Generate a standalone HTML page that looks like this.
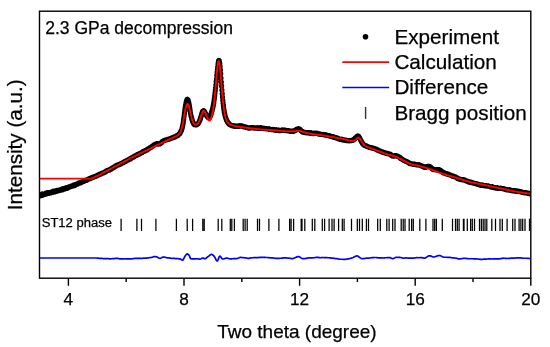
<!DOCTYPE html>
<html><head><meta charset="utf-8"><style>
html,body{margin:0;padding:0;background:#fff;}
svg{display:block;}
text{font-family:"Liberation Sans",Arial,sans-serif;fill:#000;stroke:#000;stroke-width:0.25px;}
</style></head><body>
<svg width="550" height="347" viewBox="0 0 550 347">
<rect width="550" height="347" fill="#fff"/>
<defs><clipPath id="c"><rect x="39.5" y="11.2" width="491.30" height="267"/></clipPath></defs>
<g clip-path="url(#c)" fill="none" stroke-linejoin="round" stroke-linecap="round">
<path d="M39.5 195.4h0M39.8 195.9h0M40.1 195.8h0M40.4 194.9h0M40.7 195.0h0M41.0 194.8h0M41.3 195.2h0M41.6 194.8h0M41.9 195.1h0M42.2 193.9h0M42.5 195.3h0M42.8 194.5h0M43.1 194.8h0M43.4 194.3h0M43.7 194.2h0M44.0 194.4h0M44.3 194.5h0M44.6 194.0h0M44.9 194.0h0M45.2 194.2h0M45.5 193.5h0M45.8 193.2h0M46.1 193.9h0M46.4 193.4h0M46.7 192.8h0M47.0 193.2h0M47.3 193.2h0M47.6 192.9h0M47.9 192.7h0M48.2 193.2h0M48.5 193.4h0M48.8 192.9h0M49.1 192.6h0M49.4 193.0h0M49.7 193.0h0M50.0 192.6h0M50.3 192.8h0M50.6 192.9h0M50.9 192.4h0M51.2 192.1h0M51.5 192.4h0M51.8 192.3h0M52.1 192.5h0M52.4 191.6h0M52.7 191.7h0M53.0 191.6h0M53.3 191.2h0M53.6 191.8h0M53.9 191.8h0M54.2 191.3h0M54.5 192.0h0M54.8 191.7h0M55.1 191.6h0M55.4 191.4h0M55.7 191.5h0M56.0 190.7h0M56.3 191.2h0M56.6 191.2h0M56.9 190.3h0M57.2 190.9h0M57.5 190.6h0M57.8 190.9h0M58.1 190.4h0M58.4 190.5h0M58.7 190.5h0M59.0 190.1h0M59.3 190.4h0M59.6 190.1h0M59.9 190.2h0M60.2 189.8h0M60.5 190.2h0M60.8 190.0h0M61.1 189.7h0M61.4 189.8h0M61.7 189.9h0M62.0 190.0h0M62.3 188.9h0M62.6 189.5h0M62.9 189.3h0M63.2 189.1h0M63.5 188.7h0M63.8 189.2h0M64.1 188.5h0M64.4 188.9h0M64.7 188.9h0M65.0 188.1h0M65.3 188.3h0M65.6 188.0h0M65.9 188.3h0M66.2 188.5h0M66.5 188.5h0M66.8 187.5h0M67.1 187.6h0M67.4 187.8h0M67.7 187.9h0M68.0 187.6h0M68.3 187.2h0M68.6 187.3h0M68.9 187.1h0M69.2 187.0h0M69.5 186.7h0M69.8 186.9h0M70.1 186.7h0M70.4 186.5h0M70.7 186.4h0M71.0 186.1h0M71.3 186.1h0M71.6 186.3h0M71.9 185.9h0M72.2 185.6h0M72.5 186.0h0M72.8 185.7h0M73.1 185.9h0M73.4 185.4h0M73.7 185.2h0M74.0 184.9h0M74.3 185.3h0M74.6 185.4h0M74.9 184.7h0M75.2 184.6h0M75.5 184.7h0M75.8 184.3h0M76.1 184.3h0M76.4 184.2h0M76.7 184.1h0M77.0 184.2h0M77.3 183.9h0M77.6 183.9h0M77.9 183.6h0M78.2 183.6h0M78.5 183.1h0M78.8 183.1h0M79.1 183.3h0M79.4 183.0h0M79.7 183.0h0M80.0 182.9h0M80.3 182.9h0M80.6 182.7h0M80.9 182.6h0M81.2 182.3h0M81.5 182.1h0M81.8 182.0h0M82.1 181.9h0M82.4 181.7h0M82.7 181.6h0M83.0 181.5h0M83.3 181.4h0M83.6 181.2h0M83.9 180.9h0M84.2 181.0h0M84.5 180.9h0M84.8 180.8h0M85.1 180.6h0M85.4 180.4h0M85.7 180.2h0M86.0 180.4h0M86.3 180.1h0M86.6 180.1h0M86.9 180.0h0M87.2 179.5h0M87.5 179.5h0M87.8 179.4h0M88.1 179.3h0M88.4 179.2h0M88.7 179.0h0M89.0 178.9h0M89.3 178.6h0M89.6 178.6h0M89.9 178.4h0M90.2 178.4h0M90.5 178.2h0M90.8 178.2h0M91.1 178.0h0M91.4 177.9h0M91.7 177.7h0M92.0 177.6h0M92.3 177.4h0M92.6 177.3h0M92.9 177.2h0M93.2 177.2h0M93.5 177.0h0M93.8 177.0h0M94.1 176.7h0M94.4 176.8h0M94.7 176.5h0M95.0 176.4h0M95.3 176.3h0M95.6 176.2h0M95.9 176.2h0M96.2 176.0h0M96.5 175.9h0M96.8 175.8h0M97.1 175.6h0M97.4 175.3h0M97.7 175.1h0M98.0 175.1h0M98.3 174.8h0M98.6 175.0h0M98.9 174.5h0M99.2 174.6h0M99.5 174.5h0M99.8 174.1h0M100.1 174.2h0M100.4 174.1h0M100.7 173.9h0M101.0 173.7h0M101.3 173.7h0M101.6 173.4h0M101.9 173.3h0M102.2 173.2h0M102.5 173.1h0M102.8 172.9h0M103.1 172.9h0M103.4 172.7h0M103.7 172.5h0M104.0 172.5h0M104.3 172.5h0M104.6 172.2h0M104.9 171.9h0M105.2 171.9h0M105.5 171.6h0M105.8 171.5h0M106.1 171.3h0M106.4 170.9h0M106.7 171.0h0M107.0 170.7h0M107.3 170.6h0M107.6 170.4h0M107.9 170.3h0M108.2 170.2h0M108.5 170.2h0M108.8 170.2h0M109.1 169.9h0M109.4 169.9h0M109.7 169.6h0M110.0 169.3h0M110.3 169.3h0M110.6 169.2h0M110.9 169.0h0M111.2 168.9h0M111.5 168.7h0M111.8 168.4h0M112.1 168.2h0M112.4 168.1h0M112.7 167.9h0M113.0 167.7h0M113.3 167.7h0M113.6 167.6h0M113.9 167.2h0M114.2 167.1h0M114.5 167.0h0M114.8 166.7h0M115.1 166.6h0M115.4 166.2h0M115.7 166.1h0M116.0 166.0h0M116.3 165.7h0M116.6 165.4h0M116.9 165.3h0M117.2 165.2h0M117.5 165.0h0M117.8 164.8h0M118.1 164.9h0M118.4 164.6h0M118.7 164.7h0M119.0 164.5h0M119.3 164.4h0M119.6 164.5h0M119.9 164.3h0M120.2 164.0h0M120.5 164.0h0M120.8 163.7h0M121.1 163.4h0M121.4 163.4h0M121.7 163.3h0M122.0 163.2h0M122.3 163.0h0M122.6 162.8h0M122.9 162.7h0M123.2 162.5h0M123.5 162.4h0M123.8 162.1h0M124.1 162.0h0M124.4 161.8h0M124.7 161.5h0M125.0 161.3h0M125.3 161.4h0M125.6 161.2h0M125.9 161.0h0M126.2 160.9h0M126.5 160.7h0M126.8 160.6h0M127.1 160.4h0M127.4 160.3h0M127.7 160.0h0M128.0 160.1h0M128.3 159.8h0M128.6 159.5h0M128.9 159.4h0M129.2 159.3h0M129.5 159.2h0M129.8 158.9h0M130.1 158.9h0M130.4 159.1h0M130.7 158.4h0M131.0 158.4h0M131.3 158.2h0M131.6 158.1h0M131.9 157.7h0M132.2 157.6h0M132.5 157.6h0M132.8 157.3h0M133.1 157.3h0M133.4 156.8h0M133.7 156.7h0M134.0 156.8h0M134.3 156.3h0M134.6 156.1h0M134.9 156.0h0M135.2 155.8h0M135.5 155.8h0M135.8 155.5h0M136.1 155.3h0M136.4 155.2h0M136.7 155.3h0M137.0 155.0h0M137.3 154.5h0M137.6 154.6h0M137.9 154.4h0M138.2 154.4h0M138.5 154.1h0M138.8 154.2h0M139.1 153.9h0M139.4 153.8h0M139.7 153.5h0M140.0 153.4h0M140.3 153.3h0M140.6 153.2h0M140.9 153.0h0M141.2 152.8h0M141.5 152.8h0M141.8 152.5h0M142.1 152.4h0M142.4 152.1h0M142.7 152.0h0M143.0 151.8h0M143.3 151.4h0M143.6 151.6h0M143.9 151.4h0M144.2 151.1h0M144.5 151.1h0M144.8 150.9h0M145.1 150.7h0M145.4 150.3h0M145.7 150.4h0M146.0 150.3h0M146.3 150.3h0M146.6 150.1h0M146.9 149.9h0M147.2 149.5h0M147.5 149.2h0M147.8 149.3h0M148.1 149.0h0M148.4 148.9h0M148.7 148.6h0M149.0 148.4h0M149.3 148.0h0M149.6 148.1h0M149.9 147.8h0M150.2 147.7h0M150.5 147.5h0M150.8 147.3h0M151.1 147.1h0M151.4 146.9h0M151.7 146.8h0M152.0 146.5h0M152.3 146.2h0M152.6 146.0h0M152.9 146.0h0M153.2 145.5h0M153.5 145.4h0M153.8 145.1h0M154.1 144.8h0M154.4 144.6h0M154.7 144.5h0M155.0 144.4h0M155.3 144.3h0M155.6 144.0h0M155.9 144.0h0M156.2 143.9h0M156.5 144.1h0M156.8 143.6h0M157.1 143.9h0M157.4 143.8h0M157.7 143.9h0M158.0 143.9h0M158.3 144.0h0M158.6 144.1h0M158.9 143.9h0M159.2 143.9h0M159.5 143.9h0M159.8 143.7h0M160.1 143.6h0M160.4 143.4h0M160.7 143.1h0M161.0 142.9h0M161.3 142.6h0M161.6 142.4h0M161.9 142.0h0M162.2 141.7h0M162.5 141.6h0M162.8 141.3h0M163.1 141.1h0M163.4 140.8h0M163.7 140.6h0M164.0 140.5h0M164.3 140.4h0M164.6 140.4h0M164.9 140.2h0M165.2 140.0h0M165.5 140.1h0M165.8 139.9h0M166.1 140.0h0M166.4 139.8h0M166.7 139.7h0M167.0 139.7h0M167.3 139.6h0M167.6 139.4h0M167.9 139.5h0M168.2 139.5h0M168.5 139.0h0M168.8 139.3h0M169.1 138.9h0M169.4 138.8h0M169.7 138.8h0M170.0 138.5h0M170.3 138.7h0M170.6 138.5h0M170.9 138.3h0M171.2 138.3h0M171.5 138.0h0M171.8 138.1h0M172.1 138.1h0M172.4 137.7h0M172.7 137.7h0M173.0 137.6h0M173.3 137.6h0M173.6 137.5h0M173.9 137.1h0M174.2 137.0h0M174.5 136.9h0M174.8 136.7h0M175.1 136.6h0M175.4 136.7h0M175.7 136.6h0M176.0 136.3h0M176.3 136.2h0M176.6 136.1h0M176.9 135.7h0M177.2 135.7h0M177.5 135.4h0M177.8 135.5h0M178.1 135.1h0M178.4 134.8h0M178.7 134.5h0M179.0 134.0h0M179.3 134.0h0M179.6 133.7h0M179.9 133.0h0M180.2 132.7h0M180.5 132.2h0M180.8 131.4h0M181.1 131.1h0M181.4 130.4h0M181.7 129.5h0M182.0 128.5h0M182.3 127.5h0M182.6 125.9h0M182.9 124.5h0M183.2 122.8h0M183.5 120.4h0M183.8 118.4h0M184.1 115.9h0M184.4 113.4h0M184.7 111.2h0M185.0 108.9h0M185.3 107.0h0M185.6 105.1h0M185.9 103.7h0M186.2 102.1h0M186.5 101.0h0M186.8 100.0h0M187.1 99.4h0M187.4 99.4h0M187.7 99.5h0M188.0 99.9h0M188.3 100.7h0M188.6 102.0h0M188.9 103.2h0M189.2 104.5h0M189.5 106.3h0M189.8 108.3h0M190.1 110.4h0M190.4 112.5h0M190.7 114.3h0M191.0 115.7h0M191.3 116.8h0M191.6 118.1h0M191.9 119.2h0M192.2 120.1h0M192.5 121.1h0M192.8 121.8h0M193.1 122.5h0M193.4 123.1h0M193.7 123.6h0M194.0 124.1h0M194.3 124.2h0M194.6 124.7h0M194.9 124.6h0M195.2 124.8h0M195.5 124.7h0M195.8 124.9h0M196.1 125.0h0M196.4 124.8h0M196.7 124.7h0M197.0 124.3h0M197.3 124.2h0M197.6 124.0h0M197.9 123.7h0M198.2 123.5h0M198.5 123.0h0M198.8 122.5h0M199.1 122.0h0M199.4 121.2h0M199.7 120.5h0M200.0 119.7h0M200.3 118.9h0M200.6 117.9h0M200.9 116.9h0M201.2 115.9h0M201.5 114.6h0M201.8 113.7h0M202.1 112.9h0M202.4 111.9h0M202.7 111.4h0M203.0 111.1h0M203.3 110.8h0M203.6 110.7h0M203.9 110.8h0M204.2 111.1h0M204.5 111.7h0M204.8 112.1h0M205.1 112.8h0M205.4 113.4h0M205.7 113.8h0M206.0 114.3h0M206.3 114.9h0M206.6 115.4h0M206.9 115.9h0M207.2 116.2h0M207.5 116.7h0M207.8 116.8h0M208.1 117.3h0M208.4 117.7h0M208.7 117.8h0M209.0 117.8h0M209.3 117.7h0M209.6 117.4h0M209.9 117.0h0M210.2 116.3h0M210.5 115.6h0M210.8 114.9h0M211.1 113.8h0M211.4 113.0h0M211.7 111.9h0M212.0 110.8h0M212.3 109.8h0M212.6 108.5h0M212.9 107.4h0M213.2 105.7h0M213.5 104.3h0M213.8 102.4h0M214.1 100.0h0M214.4 98.0h0M214.7 95.7h0M215.0 93.0h0M215.3 90.5h0M215.6 87.5h0M215.9 84.8h0M216.2 81.6h0M216.5 78.8h0M216.8 75.5h0M217.1 72.4h0M217.4 69.7h0M217.7 67.1h0M218.0 64.3h0M218.3 62.4h0M218.6 60.9h0M218.9 60.3h0M219.2 60.6h0M219.5 61.9h0M219.8 63.7h0M220.1 66.7h0M220.4 70.1h0M220.7 73.7h0M221.0 78.0h0M221.3 82.1h0M221.6 85.9h0M221.9 90.1h0M222.2 93.7h0M222.5 97.0h0M222.8 100.3h0M223.1 103.0h0M223.4 105.6h0M223.7 108.0h0M224.0 110.1h0M224.3 111.9h0M224.6 113.3h0M224.9 114.7h0M225.2 116.2h0M225.5 117.1h0M225.8 118.1h0M226.1 118.8h0M226.4 119.7h0M226.7 120.2h0M227.0 121.1h0M227.3 121.4h0M227.6 122.0h0M227.9 122.4h0M228.2 123.0h0M228.5 123.1h0M228.8 123.6h0M229.1 123.9h0M229.4 124.2h0M229.7 124.5h0M230.0 124.6h0M230.3 124.8h0M230.6 124.9h0M230.9 125.1h0M231.2 125.2h0M231.5 125.3h0M231.8 125.4h0M232.1 125.5h0M232.4 125.8h0M232.7 125.6h0M233.0 125.8h0M233.3 125.9h0M233.6 125.7h0M233.9 125.8h0M234.2 125.9h0M234.5 126.1h0M234.8 126.4h0M235.1 126.3h0M235.4 126.4h0M235.7 126.3h0M236.0 126.1h0M236.3 126.2h0M236.6 126.5h0M236.9 126.5h0M237.2 126.3h0M237.5 126.5h0M237.8 126.2h0M238.1 126.4h0M238.4 126.4h0M238.7 126.1h0M239.0 125.9h0M239.3 126.1h0M239.6 125.8h0M239.9 126.0h0M240.2 125.8h0M240.5 126.0h0M240.8 126.0h0M241.1 126.0h0M241.4 126.0h0M241.7 126.2h0M242.0 126.0h0M242.3 126.3h0M242.6 126.3h0M242.9 126.5h0M243.2 126.4h0M243.5 126.7h0M243.8 126.6h0M244.1 126.6h0M244.4 126.9h0M244.7 127.0h0M245.0 126.8h0M245.3 126.8h0M245.6 127.0h0M245.9 127.0h0M246.2 127.1h0M246.5 127.4h0M246.8 127.4h0M247.1 127.5h0M247.4 127.6h0M247.7 127.7h0M248.0 127.8h0M248.3 127.9h0M248.6 127.9h0M248.9 128.0h0M249.2 128.2h0M249.5 128.0h0M249.8 127.8h0M250.1 127.9h0M250.4 127.6h0M250.7 127.5h0M251.0 127.6h0M251.3 127.5h0M251.6 127.6h0M251.9 127.7h0M252.2 127.7h0M252.5 127.7h0M252.8 127.7h0M253.1 127.7h0M253.4 127.9h0M253.7 127.8h0M254.0 127.8h0M254.3 128.1h0M254.6 127.9h0M254.9 128.1h0M255.2 128.1h0M255.5 128.0h0M255.8 127.9h0M256.1 128.1h0M256.4 128.1h0M256.7 128.2h0M257.0 128.1h0M257.3 128.2h0M257.6 128.3h0M257.9 128.1h0M258.2 128.3h0M258.5 128.2h0M258.8 128.1h0M259.1 128.1h0M259.4 128.4h0M259.7 128.3h0M260.0 128.0h0M260.3 128.2h0M260.6 128.2h0M260.9 128.2h0M261.2 128.2h0M261.5 128.2h0M261.8 128.4h0M262.1 128.2h0M262.4 128.3h0M262.7 128.3h0M263.0 128.3h0M263.3 128.5h0M263.6 128.5h0M263.9 128.4h0M264.2 128.4h0M264.5 128.5h0M264.8 128.7h0M265.1 128.7h0M265.4 128.7h0M265.7 128.7h0M266.0 128.7h0M266.3 128.8h0M266.6 128.6h0M266.9 129.0h0M267.2 128.8h0M267.5 128.8h0M267.8 129.0h0M268.1 129.0h0M268.4 129.0h0M268.7 129.0h0M269.0 129.0h0M269.3 129.2h0M269.6 129.4h0M269.9 129.2h0M270.2 129.5h0M270.5 129.3h0M270.8 129.4h0M271.1 129.5h0M271.4 129.5h0M271.7 129.6h0M272.0 129.5h0M272.3 129.5h0M272.6 129.4h0M272.9 129.5h0M273.2 129.6h0M273.5 129.6h0M273.8 129.8h0M274.1 129.8h0M274.4 129.7h0M274.7 130.2h0M275.0 130.0h0M275.3 130.0h0M275.6 130.3h0M275.9 130.3h0M276.2 130.1h0M276.5 130.1h0M276.8 130.2h0M277.1 130.5h0M277.4 130.3h0M277.7 130.3h0M278.0 130.4h0M278.3 130.5h0M278.6 130.3h0M278.9 130.4h0M279.2 130.3h0M279.5 130.7h0M279.8 130.6h0M280.1 130.6h0M280.4 130.5h0M280.7 130.6h0M281.0 130.3h0M281.3 130.5h0M281.6 130.4h0M281.9 130.4h0M282.2 130.4h0M282.5 130.4h0M282.8 130.5h0M283.1 130.5h0M283.4 130.4h0M283.7 130.3h0M284.0 130.4h0M284.3 130.3h0M284.6 130.5h0M284.9 130.3h0M285.2 130.1h0M285.5 130.4h0M285.8 130.7h0M286.1 130.6h0M286.4 130.5h0M286.7 130.7h0M287.0 130.7h0M287.3 130.7h0M287.6 130.7h0M287.9 130.8h0M288.2 130.8h0M288.5 130.8h0M288.8 130.8h0M289.1 130.9h0M289.4 131.0h0M289.7 131.1h0M290.0 131.1h0M290.3 131.2h0M290.6 131.4h0M290.9 131.3h0M291.2 131.4h0M291.5 131.5h0M291.8 131.4h0M292.1 131.4h0M292.4 131.5h0M292.7 131.5h0M293.0 131.3h0M293.3 131.2h0M293.6 131.1h0M293.9 130.8h0M294.2 130.9h0M294.5 130.6h0M294.8 130.3h0M295.1 130.4h0M295.4 130.0h0M295.7 129.9h0M296.0 129.9h0M296.3 129.6h0M296.6 129.7h0M296.9 129.2h0M297.2 129.3h0M297.5 129.2h0M297.8 129.1h0M298.1 129.0h0M298.4 128.9h0M298.7 128.9h0M299.0 128.9h0M299.3 129.2h0M299.6 129.2h0M299.9 129.5h0M300.2 129.7h0M300.5 130.0h0M300.8 130.3h0M301.1 130.8h0M301.4 130.8h0M301.7 131.2h0M302.0 131.4h0M302.3 131.7h0M302.6 131.9h0M302.9 132.0h0M303.2 132.2h0M303.5 132.0h0M303.8 132.2h0M304.1 132.2h0M304.4 132.4h0M304.7 132.3h0M305.0 132.4h0M305.3 132.5h0M305.6 132.7h0M305.9 132.7h0M306.2 132.7h0M306.5 132.8h0M306.8 132.6h0M307.1 132.5h0M307.4 132.7h0M307.7 132.7h0M308.0 132.9h0M308.3 133.0h0M308.6 132.7h0M308.9 133.1h0M309.2 133.1h0M309.5 133.0h0M309.8 133.0h0M310.1 133.3h0M310.4 133.1h0M310.7 133.1h0M311.0 133.2h0M311.3 133.0h0M311.6 133.3h0M311.9 133.2h0M312.2 133.3h0M312.5 133.4h0M312.8 133.3h0M313.1 133.6h0M313.4 133.4h0M313.7 133.6h0M314.0 133.3h0M314.3 133.5h0M314.6 133.4h0M314.9 133.5h0M315.2 133.4h0M315.5 133.2h0M315.8 133.3h0M316.1 133.4h0M316.4 133.5h0M316.7 133.3h0M317.0 133.2h0M317.3 133.4h0M317.6 133.5h0M317.9 133.5h0M318.2 133.6h0M318.5 133.9h0M318.8 134.0h0M319.1 134.0h0M319.4 134.0h0M319.7 134.2h0M320.0 134.2h0M320.3 134.2h0M320.6 134.4h0M320.9 134.4h0M321.2 134.3h0M321.5 134.5h0M321.8 134.5h0M322.1 134.5h0M322.4 134.5h0M322.7 134.5h0M323.0 134.3h0M323.3 134.5h0M323.6 134.7h0M323.9 134.6h0M324.2 134.7h0M324.5 134.8h0M324.8 135.0h0M325.1 135.0h0M325.4 135.1h0M325.7 135.0h0M326.0 135.2h0M326.3 135.2h0M326.6 135.2h0M326.9 135.4h0M327.2 135.4h0M327.5 135.4h0M327.8 135.6h0M328.1 135.5h0M328.4 135.7h0M328.7 135.5h0M329.0 135.7h0M329.3 135.7h0M329.6 135.8h0M329.9 135.8h0M330.2 136.2h0M330.5 136.1h0M330.8 136.3h0M331.1 136.4h0M331.4 136.4h0M331.7 136.6h0M332.0 136.5h0M332.3 136.7h0M332.6 136.7h0M332.9 136.9h0M333.2 136.9h0M333.5 136.9h0M333.8 136.9h0M334.1 137.1h0M334.4 137.4h0M334.7 137.5h0M335.0 137.6h0M335.3 137.4h0M335.6 137.5h0M335.9 137.8h0M336.2 137.9h0M336.5 137.9h0M336.8 138.1h0M337.1 138.1h0M337.4 138.1h0M337.7 138.2h0M338.0 138.4h0M338.3 138.6h0M338.6 138.7h0M338.9 139.0h0M339.2 138.9h0M339.5 139.0h0M339.8 139.0h0M340.1 139.2h0M340.4 139.3h0M340.7 139.4h0M341.0 139.3h0M341.3 139.5h0M341.6 139.5h0M341.9 139.3h0M342.2 139.3h0M342.5 139.9h0M342.8 139.8h0M343.1 139.8h0M343.4 139.7h0M343.7 139.8h0M344.0 140.2h0M344.3 139.8h0M344.6 140.1h0M344.9 140.3h0M345.2 140.3h0M345.5 140.4h0M345.8 140.4h0M346.1 140.6h0M346.4 140.3h0M346.7 140.3h0M347.0 140.5h0M347.3 140.7h0M347.6 140.5h0M347.9 140.7h0M348.2 140.5h0M348.5 140.5h0M348.8 140.7h0M349.1 140.8h0M349.4 140.8h0M349.7 140.6h0M350.0 140.5h0M350.3 140.5h0M350.6 140.6h0M350.9 140.7h0M351.2 140.6h0M351.5 140.4h0M351.8 140.5h0M352.1 140.4h0M352.4 140.3h0M352.7 140.2h0M353.0 140.0h0M353.3 139.9h0M353.6 139.7h0M353.9 139.5h0M354.2 139.2h0M354.5 139.0h0M354.8 138.7h0M355.1 138.2h0M355.4 138.1h0M355.7 137.8h0M356.0 137.6h0M356.3 137.1h0M356.6 136.9h0M356.9 136.6h0M357.2 136.4h0M357.5 136.2h0M357.8 136.0h0M358.1 136.3h0M358.4 136.1h0M358.7 136.5h0M359.0 137.0h0M359.3 137.4h0M359.6 138.0h0M359.9 138.6h0M360.2 139.2h0M360.5 139.7h0M360.8 140.6h0M361.1 140.8h0M361.4 141.5h0M361.7 141.9h0M362.0 142.4h0M362.3 143.0h0M362.6 143.5h0M362.9 143.7h0M363.2 144.0h0M363.5 144.4h0M363.8 144.7h0M364.1 145.1h0M364.4 145.2h0M364.7 145.3h0M365.0 145.4h0M365.3 145.6h0M365.6 145.7h0M365.9 145.7h0M366.2 146.0h0M366.5 146.1h0M366.8 146.2h0M367.1 146.3h0M367.4 146.6h0M367.7 146.7h0M368.0 146.8h0M368.3 146.8h0M368.6 146.9h0M368.9 147.1h0M369.2 147.2h0M369.5 147.3h0M369.8 147.4h0M370.1 147.6h0M370.4 147.6h0M370.7 147.5h0M371.0 147.7h0M371.3 147.7h0M371.6 147.9h0M371.9 147.8h0M372.2 148.0h0M372.5 148.1h0M372.8 148.2h0M373.1 148.1h0M373.4 148.3h0M373.7 148.4h0M374.0 148.5h0M374.3 148.6h0M374.6 148.6h0M374.9 148.6h0M375.2 149.0h0M375.5 149.0h0M375.8 149.1h0M376.1 149.2h0M376.4 149.2h0M376.7 149.5h0M377.0 149.7h0M377.3 149.9h0M377.6 150.0h0M377.9 149.8h0M378.2 150.2h0M378.5 150.4h0M378.8 150.6h0M379.1 150.7h0M379.4 151.0h0M379.7 151.0h0M380.0 151.1h0M380.3 151.1h0M380.6 151.0h0M380.9 151.4h0M381.2 151.5h0M381.5 151.5h0M381.8 151.7h0M382.1 151.9h0M382.4 151.9h0M382.7 152.1h0M383.0 152.2h0M383.3 152.4h0M383.6 152.4h0M383.9 152.6h0M384.2 152.5h0M384.5 152.7h0M384.8 152.7h0M385.1 152.9h0M385.4 153.1h0M385.7 153.1h0M386.0 153.2h0M386.3 153.3h0M386.6 153.5h0M386.9 153.3h0M387.2 153.6h0M387.5 153.4h0M387.8 153.6h0M388.1 153.7h0M388.4 153.7h0M388.7 153.9h0M389.0 154.0h0M389.3 153.9h0M389.6 154.1h0M389.9 154.2h0M390.2 154.1h0M390.5 154.4h0M390.8 154.6h0M391.1 155.0h0M391.4 155.0h0M391.7 155.5h0M392.0 155.5h0M392.3 155.9h0M392.6 156.0h0M392.9 156.1h0M393.2 156.1h0M393.5 156.1h0M393.8 156.2h0M394.1 156.1h0M394.4 155.9h0M394.7 155.7h0M395.0 155.5h0M395.3 155.7h0M395.6 155.8h0M395.9 155.8h0M396.2 155.8h0M396.5 155.8h0M396.8 155.9h0M397.1 156.0h0M397.4 156.3h0M397.7 156.2h0M398.0 156.6h0M398.3 156.5h0M398.6 156.8h0M398.9 157.0h0M399.2 157.1h0M399.5 157.2h0M399.8 157.4h0M400.1 157.7h0M400.4 157.8h0M400.7 158.4h0M401.0 158.3h0M401.3 158.6h0M401.6 158.8h0M401.9 159.0h0M402.2 159.1h0M402.5 159.5h0M402.8 159.8h0M403.1 159.8h0M403.4 160.1h0M403.7 160.1h0M404.0 160.4h0M404.3 160.5h0M404.6 160.7h0M404.9 160.8h0M405.2 160.8h0M405.5 161.1h0M405.8 161.2h0M406.1 161.4h0M406.4 161.6h0M406.7 161.6h0M407.0 161.7h0M407.3 162.1h0M407.6 162.1h0M407.9 162.3h0M408.2 162.4h0M408.5 162.8h0M408.8 162.8h0M409.1 162.8h0M409.4 163.2h0M409.7 163.5h0M410.0 163.6h0M410.3 163.4h0M410.6 163.6h0M410.9 163.7h0M411.2 163.8h0M411.5 163.8h0M411.8 163.8h0M412.1 164.0h0M412.4 164.1h0M412.7 164.0h0M413.0 164.1h0M413.3 164.3h0M413.6 164.3h0M413.9 164.4h0M414.2 164.4h0M414.5 164.5h0M414.8 164.4h0M415.1 164.3h0M415.4 164.5h0M415.7 164.6h0M416.0 164.7h0M416.3 164.5h0M416.6 164.6h0M416.9 164.8h0M417.2 164.9h0M417.5 164.8h0M417.8 164.9h0M418.1 164.9h0M418.4 165.1h0M418.7 165.0h0M419.0 165.2h0M419.3 165.2h0M419.6 165.2h0M419.9 165.1h0M420.2 165.3h0M420.5 165.5h0M420.8 165.5h0M421.1 165.6h0M421.4 165.8h0M421.7 165.9h0M422.0 166.0h0M422.3 166.0h0M422.6 166.2h0M422.9 166.4h0M423.2 166.5h0M423.5 166.6h0M423.8 166.9h0M424.1 166.9h0M424.4 167.3h0M424.7 167.2h0M425.0 167.2h0M425.3 167.2h0M425.6 167.4h0M425.9 167.0h0M426.2 167.0h0M426.5 166.8h0M426.8 166.8h0M427.1 166.7h0M427.4 166.7h0M427.7 166.4h0M428.0 166.5h0M428.3 166.6h0M428.6 166.4h0M428.9 166.5h0M429.2 166.5h0M429.5 166.4h0M429.8 166.7h0M430.1 167.0h0M430.4 167.1h0M430.7 167.1h0M431.0 167.6h0M431.3 167.8h0M431.6 168.2h0M431.9 168.4h0M432.2 168.6h0M432.5 168.9h0M432.8 168.9h0M433.1 169.4h0M433.4 169.4h0M433.7 169.6h0M434.0 169.7h0M434.3 169.7h0M434.6 169.7h0M434.9 169.7h0M435.2 169.5h0M435.5 169.7h0M435.8 169.8h0M436.1 169.6h0M436.4 169.8h0M436.7 169.7h0M437.0 169.7h0M437.3 169.6h0M437.6 169.5h0M437.9 169.7h0M438.2 169.7h0M438.5 169.6h0M438.8 169.7h0M439.1 169.7h0M439.4 169.9h0M439.7 170.0h0M440.0 170.0h0M440.3 170.4h0M440.6 170.4h0M440.9 170.7h0M441.2 170.9h0M441.5 171.2h0M441.8 171.3h0M442.1 171.8h0M442.4 172.0h0M442.7 172.2h0M443.0 172.5h0M443.3 172.5h0M443.6 172.4h0M443.9 172.9h0M444.2 173.1h0M444.5 173.2h0M444.8 173.1h0M445.1 173.3h0M445.4 173.4h0M445.7 173.3h0M446.0 173.5h0M446.3 173.6h0M446.6 173.9h0M446.9 173.8h0M447.2 174.1h0M447.5 174.0h0M447.8 173.9h0M448.1 174.4h0M448.4 174.2h0M448.7 174.4h0M449.0 174.6h0M449.3 174.5h0M449.6 174.6h0M449.9 174.9h0M450.2 175.0h0M450.5 175.0h0M450.8 175.1h0M451.1 175.3h0M451.4 175.6h0M451.7 175.6h0M452.0 175.8h0M452.3 176.1h0M452.6 176.2h0M452.9 176.3h0M453.2 176.4h0M453.5 176.2h0M453.8 176.6h0M454.1 176.6h0M454.4 176.7h0M454.7 176.7h0M455.0 176.7h0M455.3 176.9h0M455.6 177.1h0M455.9 177.1h0M456.2 177.3h0M456.5 177.5h0M456.8 177.8h0M457.1 177.9h0M457.4 178.2h0M457.7 178.6h0M458.0 178.6h0M458.3 178.8h0M458.6 178.7h0M458.9 179.0h0M459.2 179.0h0M459.5 179.1h0M459.8 179.2h0M460.1 179.2h0M460.4 179.3h0M460.7 179.4h0M461.0 179.6h0M461.3 179.6h0M461.6 179.5h0M461.9 179.7h0M462.2 179.6h0M462.5 179.8h0M462.8 179.7h0M463.1 179.6h0M463.4 179.9h0M463.7 179.9h0M464.0 179.8h0M464.3 179.9h0M464.6 180.1h0M464.9 180.1h0M465.2 180.4h0M465.5 180.6h0M465.8 180.8h0M466.1 180.7h0M466.4 181.0h0M466.7 181.1h0M467.0 181.1h0M467.3 181.1h0M467.6 181.5h0M467.9 181.5h0M468.2 181.8h0M468.5 181.8h0M468.8 181.9h0M469.1 182.1h0M469.4 181.9h0M469.7 182.1h0M470.0 182.1h0M470.3 182.4h0M470.6 182.3h0M470.9 182.0h0M471.2 182.5h0M471.5 182.4h0M471.8 182.6h0M472.1 182.6h0M472.4 182.7h0M472.7 182.9h0M473.0 182.9h0M473.3 182.9h0M473.6 183.2h0M473.9 183.1h0M474.2 183.2h0M474.5 183.3h0M474.8 183.3h0M475.1 183.6h0M475.4 183.5h0M475.7 183.6h0M476.0 183.7h0M476.3 183.6h0M476.6 183.7h0M476.9 183.9h0M477.2 184.0h0M477.5 184.2h0M477.8 184.2h0M478.1 184.1h0M478.4 184.4h0M478.7 184.5h0M479.0 184.6h0M479.3 184.7h0M479.6 184.6h0M479.9 185.0h0M480.2 184.9h0M480.5 185.2h0M480.8 185.0h0M481.1 185.3h0M481.4 185.2h0M481.7 185.4h0M482.0 185.5h0M482.3 185.5h0M482.6 185.3h0M482.9 185.3h0M483.2 185.4h0M483.5 185.6h0M483.8 185.6h0M484.1 185.6h0M484.4 185.7h0M484.7 185.7h0M485.0 185.8h0M485.3 186.0h0M485.6 185.8h0M485.9 185.9h0M486.2 185.7h0M486.5 185.8h0M486.8 185.9h0M487.1 185.9h0M487.4 186.1h0M487.7 186.2h0M488.0 186.1h0M488.3 186.2h0M488.6 186.2h0M488.9 186.3h0M489.2 186.3h0M489.5 186.5h0M489.8 186.5h0M490.1 186.6h0M490.4 186.7h0M490.7 186.8h0M491.0 186.9h0M491.3 187.1h0M491.6 187.0h0M491.9 187.1h0M492.2 187.1h0M492.5 187.1h0M492.8 187.2h0M493.1 187.2h0M493.4 187.4h0M493.7 187.4h0M494.0 187.4h0M494.3 187.7h0M494.6 187.6h0M494.9 187.8h0M495.2 187.8h0M495.5 187.9h0M495.8 187.8h0M496.1 187.9h0M496.4 188.2h0M496.7 188.1h0M497.0 188.1h0M497.3 188.1h0M497.6 188.2h0M497.9 188.1h0M498.2 188.2h0M498.5 188.4h0M498.8 188.5h0M499.1 188.4h0M499.4 188.5h0M499.7 188.5h0M500.0 188.5h0M500.3 188.4h0M500.6 188.4h0M500.9 188.5h0M501.2 188.4h0M501.5 188.5h0M501.8 188.5h0M502.1 188.5h0M502.4 188.6h0M502.7 188.6h0M503.0 188.7h0M503.3 188.6h0M503.6 188.7h0M503.9 188.9h0M504.2 189.0h0M504.5 188.9h0M504.8 189.1h0M505.1 189.2h0M505.4 189.3h0M505.7 189.5h0M506.0 189.5h0M506.3 189.6h0M506.6 189.7h0M506.9 189.7h0M507.2 189.7h0M507.5 190.0h0M507.8 190.0h0M508.1 190.0h0M508.4 190.0h0M508.7 190.1h0M509.0 190.0h0M509.3 190.2h0M509.6 190.0h0M509.9 190.2h0M510.2 190.1h0M510.5 190.3h0M510.8 190.4h0M511.1 190.3h0M511.4 190.4h0M511.7 190.5h0M512.0 190.5h0M512.3 190.6h0M512.6 190.6h0M512.9 190.9h0M513.2 190.9h0M513.5 190.9h0M513.8 190.8h0M514.1 191.0h0M514.4 190.8h0M514.7 191.0h0M515.0 190.9h0M515.3 191.2h0M515.6 190.9h0M515.9 191.2h0M516.2 191.2h0M516.5 191.0h0M516.8 191.2h0M517.1 191.4h0M517.4 191.4h0M517.7 191.1h0M518.0 191.3h0M518.3 191.2h0M518.6 191.3h0M518.9 191.4h0M519.2 191.6h0M519.5 191.5h0M519.8 191.5h0M520.1 191.6h0M520.4 191.7h0M520.7 191.8h0M521.0 191.8h0M521.3 192.1h0M521.6 191.9h0M521.9 192.1h0M522.2 192.3h0M522.5 192.5h0M522.8 192.3h0M523.1 192.5h0M523.4 192.6h0M523.7 192.6h0M524.0 192.7h0M524.3 192.7h0M524.6 192.7h0M524.9 192.8h0M525.2 192.8h0M525.5 192.8h0M525.8 193.0h0M526.1 192.7h0M526.4 192.8h0M526.7 193.1h0M527.0 193.1h0M527.3 193.0h0M527.6 193.2h0M527.9 193.3h0M528.2 193.2h0M528.5 193.4h0M528.8 193.4h0M529.1 193.5h0M529.4 193.5h0M529.7 193.7h0M530.0 193.6h0M530.3 193.8h0M530.6 194.0h0" stroke="#000" stroke-width="5.2"/>
<path d="M39.5 178.6L91.2 178.6L91.20 178.87L91.70 178.62L92.20 178.36L92.70 178.11L93.20 177.85L93.70 177.60L94.20 177.34L94.70 177.09L95.20 176.83L95.70 176.58L96.20 176.32L96.70 176.06L97.20 175.81L97.70 175.55L98.20 175.29L98.70 175.03L99.20 174.78L99.70 174.52L100.20 174.26L100.70 174.00L101.20 173.74L101.70 173.49L102.20 173.23L102.70 172.97L103.20 172.71L103.70 172.45L104.20 172.19L104.70 171.93L105.20 171.67L105.70 171.41L106.20 171.15L106.70 170.89L107.20 170.63L107.70 170.37L108.20 170.11L108.70 169.85L109.20 169.59L109.70 169.33L110.20 169.06L110.70 168.80L111.20 168.54L111.70 168.28L112.20 168.01L112.70 167.75L113.20 167.48L113.70 167.21L114.20 166.95L114.70 166.68L115.20 166.41L115.70 166.14L116.20 165.88L116.70 165.61L117.20 165.34L117.70 165.07L118.20 164.80L118.70 164.53L119.20 164.26L119.70 163.99L120.20 163.72L120.70 163.46L121.20 163.19L121.70 162.92L122.20 162.65L122.70 162.38L123.20 162.12L123.70 161.85L124.20 161.58L124.70 161.32L125.20 161.05L125.70 160.79L126.20 160.53L126.70 160.26L127.20 160.00L127.70 159.74L128.20 159.48L128.70 159.22L129.20 158.96L129.70 158.71L130.20 158.45L130.70 158.20L131.20 157.94L131.70 157.69L132.20 157.44L132.70 157.18L133.20 156.93L133.70 156.68L134.20 156.43L134.70 156.18L135.20 155.93L135.70 155.68L136.20 155.43L136.70 155.18L137.20 154.94L137.70 154.69L138.20 154.44L138.70 154.19L139.20 153.95L139.70 153.70L140.20 153.46L140.70 153.21L141.20 152.97L141.70 152.72L142.20 152.48L142.70 152.23L143.20 151.99L143.70 151.75L144.20 151.50L144.70 151.26L145.20 151.02L145.70 150.77L146.20 150.53L146.70 150.29L147.20 150.04L147.70 149.80L148.20 149.56L148.70 149.31L149.20 149.07L149.70 148.83L150.20 148.58L150.70 148.34L151.20 148.10L151.70 147.85L152.20 147.61L152.70 147.37L153.20 147.13L153.70 146.89L154.20 146.65L154.70 146.40L155.20 146.16L155.70 145.92L156.20 145.68L156.70 145.44L157.20 145.20L157.70 144.96L158.20 144.72L158.70 144.48L159.20 144.24L159.70 144.00L160.20 143.76L160.70 143.52L161.20 143.28L161.70 143.04L162.20 142.80L162.70 142.56L163.20 142.32L163.70 142.08L164.20 141.84L164.70 141.60L165.20 141.36L165.70 141.12L166.20 140.88L166.70 140.65L167.20 140.41L167.70 140.17L168.20 139.94L168.70 139.70L169.20 139.47L169.70 139.23L170.20 139.00L170.70 138.76L171.20 138.53L171.70 138.29L172.20 138.05L172.70 137.81L173.20 137.57L173.70 137.33L174.20 137.09L174.70 136.84L175.20 136.59L175.70 136.33L176.20 136.07L176.70 135.79L177.20 135.49L177.70 135.15L178.20 134.77L178.70 134.31L179.20 133.75L179.70 133.05L180.00 132.54L180.20 132.17L180.23 132.11L180.46 131.63L180.69 131.10L180.70 131.08L180.92 130.51L181.16 129.87L181.20 129.74L181.39 129.17L181.62 128.40L181.70 128.11L181.85 127.57L182.08 126.67L182.20 126.18L182.31 125.71L182.54 124.68L182.70 123.94L182.77 123.59L183.01 122.44L183.20 121.43L183.24 121.24L183.47 120.00L183.70 118.72L183.70 118.71L183.93 117.41L184.16 116.09L184.20 115.87L184.39 114.77L184.62 113.47L184.70 113.04L184.85 112.19L185.09 110.95L185.20 110.36L185.32 109.77L185.55 108.66L185.70 107.98L185.78 107.64L186.01 106.73L186.20 106.06L186.24 105.92L186.47 105.25L186.70 104.71L186.70 104.70L186.93 104.29L187.17 104.03L187.20 104.01L187.40 103.92L187.63 103.95L187.70 103.99L187.86 104.13L188.09 104.44L188.20 104.63L188.32 104.88L188.55 105.44L188.70 105.86L188.78 106.11L189.02 106.88L189.20 107.55L189.25 107.73L189.48 108.64L189.70 109.57L189.71 109.61L189.94 110.61L190.17 111.64L190.20 111.77L190.40 112.67L190.63 113.70L190.70 113.99L190.86 114.71L191.10 115.69L191.20 116.12L191.33 116.63L191.56 117.53L191.70 118.06L191.79 118.38L192.02 119.17L192.20 119.75L192.25 119.90L192.48 120.58L192.70 121.15L192.71 121.19L192.94 121.74L193.18 122.22L193.20 122.27L193.41 122.66L193.64 123.04L193.70 123.13L193.87 123.36L194.10 123.64L194.20 123.75L194.33 123.88L194.56 124.07L194.70 124.17L194.79 124.23L195.03 124.36L195.20 124.43L195.26 124.45L195.49 124.51L195.70 124.54L195.72 124.54L195.95 124.54L196.18 124.51L196.20 124.51L196.41 124.46L196.64 124.38L196.70 124.35L196.87 124.27L197.11 124.13L197.20 124.06L197.34 123.96L197.57 123.75L197.70 123.62L197.80 123.51L198.03 123.24L198.20 123.01L198.26 122.92L198.49 122.57L198.70 122.21L198.72 122.17L198.95 121.73L199.19 121.24L199.20 121.21L199.42 120.71L199.65 120.14L199.70 120.01L199.88 119.53L200.11 118.88L200.20 118.63L200.34 118.21L200.57 117.51L200.70 117.12L200.80 116.80L201.04 116.08L201.20 115.58L201.27 115.37L201.50 114.68L201.70 114.09L201.73 114.01L201.96 113.38L202.19 112.81L202.20 112.79L202.42 112.29L202.65 111.85L202.70 111.77L202.88 111.49L203.12 111.21L203.20 111.13L203.35 111.03L203.58 110.93L203.70 110.92L203.81 110.94L204.04 111.03L204.20 111.15L204.27 111.22L204.50 111.48L204.70 111.77L204.73 111.82L204.96 112.23L205.20 112.69L205.20 112.70L205.43 113.20L205.66 113.73L205.70 113.83L205.89 114.29L206.12 114.86L206.20 115.06L206.35 115.43L206.58 116.00L206.70 116.28L206.81 116.55L207.05 117.09L207.20 117.44L207.28 117.61L207.51 118.11L207.70 118.52L207.74 118.59L207.97 119.05L208.20 119.48L208.20 119.48L208.43 119.87L208.66 120.20L208.70 120.24L208.89 120.45L209.13 120.61L209.20 120.64L209.36 120.67L209.59 120.61L209.70 120.54L209.82 120.44L210.05 120.16L210.20 119.92L210.28 119.78L210.51 119.31L210.70 118.88L210.74 118.78L210.97 118.18L211.20 117.56L211.21 117.54L211.44 116.84L211.67 116.09L211.70 115.98L211.90 115.28L212.13 114.39L212.20 114.11L212.36 113.42L212.59 112.35L212.70 111.82L212.82 111.17L213.06 109.88L213.20 109.02L213.29 108.47L213.52 106.93L213.70 105.62L213.75 105.26L213.98 103.45L214.20 101.60L214.21 101.50L214.44 99.42L214.67 97.21L214.70 96.95L214.90 94.88L215.14 92.44L215.20 91.74L215.37 89.89L215.60 87.27L215.70 86.09L215.83 84.58L216.06 81.86L216.20 80.21L216.29 79.14L216.52 76.44L216.70 74.41L216.75 73.81L216.98 71.30L217.20 69.10L217.22 68.94L217.45 66.81L217.68 64.94L217.70 64.78L217.91 63.39L218.14 62.21L218.20 61.97L218.37 61.43L218.60 61.09L218.70 61.08L218.83 61.19L219.07 61.74L219.20 62.26L219.30 62.72L219.53 64.10L219.70 65.35L219.76 65.82L219.99 67.86L220.20 69.93L220.22 70.14L220.45 72.63L220.68 75.26L220.70 75.45L220.91 77.99L221.15 80.78L221.20 81.44L221.38 83.58L221.61 86.37L221.70 87.47L221.84 89.12L222.07 91.80L222.20 93.26L222.30 94.38L222.53 96.87L222.70 98.59L222.76 99.24L222.99 101.48L223.20 103.35L223.23 103.59L223.46 105.56L223.69 107.39L223.70 107.48L223.92 109.09L224.15 110.65L224.20 110.97L224.38 112.09L224.61 113.39L224.70 113.85L224.84 114.58L225.08 115.65L225.20 116.19L225.31 116.63L225.54 117.50L225.70 118.06L225.77 118.28L226.00 118.99L226.20 119.53L226.70 120.69L227.20 121.61L227.70 122.33L228.20 122.91L228.70 123.38L229.20 123.77L229.70 124.10L230.20 124.38L230.70 124.62L231.20 124.84L231.70 125.04L232.20 125.22L232.70 125.39L233.20 125.54L233.70 125.69L234.20 125.82L234.70 125.94L235.20 126.06L235.70 126.17L236.20 126.27L236.70 126.36L237.20 126.46L237.70 126.54L238.20 126.63L238.70 126.71L239.20 126.79L239.70 126.86L240.20 126.93L240.70 127.00L241.20 127.07L241.70 127.14L242.20 127.20L242.70 127.27L243.20 127.33L243.70 127.40L244.20 127.46L244.70 127.52L245.20 127.58L245.70 127.65L246.20 127.71L246.70 127.77L247.20 127.84L247.70 127.90L248.20 127.96L248.70 128.03L249.20 128.09L249.70 128.15L250.20 128.22L250.70 128.28L251.20 128.34L251.70 128.41L252.20 128.47L252.70 128.53L253.20 128.59L253.70 128.65L254.20 128.71L254.70 128.77L255.20 128.83L255.70 128.88L256.20 128.94L256.70 129.00L257.20 129.05L257.70 129.10L258.20 129.15L258.70 129.20L259.20 129.25L259.70 129.30L260.20 129.35L260.70 129.39L261.20 129.43L261.70 129.47L262.20 129.51L262.70 129.55L263.20 129.59L263.70 129.62L264.20 129.65L264.70 129.69L265.20 129.72L265.70 129.75L266.20 129.78L266.70 129.81L267.20 129.83L267.70 129.86L268.20 129.89L268.70 129.92L269.20 129.94L269.70 129.97L270.20 130.00L270.70 130.02L271.20 130.05L271.70 130.08L272.20 130.11L272.70 130.14L273.20 130.17L273.70 130.20L274.20 130.23L274.70 130.26L275.20 130.30L275.70 130.33L276.20 130.37L276.70 130.41L277.20 130.45L277.70 130.50L278.20 130.54L278.70 130.58L279.20 130.63L279.70 130.67L280.20 130.72L280.70 130.76L281.20 130.81L281.70 130.85L282.20 130.89L282.70 130.93L283.20 130.96L283.70 131.00L284.20 131.03L284.70 131.06L285.20 131.09L285.70 131.11L286.20 131.13L286.70 131.15L287.20 131.17L287.70 131.19L288.20 131.20L288.70 131.21L289.20 131.23L289.70 131.24L290.20 131.25L290.70 131.26L291.20 131.27L291.70 131.28L292.20 131.28L292.70 131.28L293.20 131.28L293.70 131.27L294.20 131.24L294.70 131.21L295.20 131.17L295.70 131.11L296.20 131.05L296.70 130.98L297.20 130.90L297.70 130.83L298.20 130.77L298.70 130.74L299.20 130.75L299.70 130.80L300.20 130.89L300.70 131.02L301.20 131.17L301.70 131.34L302.20 131.51L302.70 131.69L303.20 131.86L303.70 132.02L304.20 132.17L304.70 132.32L305.20 132.47L305.70 132.62L306.20 132.76L306.70 132.90L307.20 133.04L307.70 133.17L308.20 133.30L308.70 133.42L309.20 133.53L309.70 133.63L310.20 133.72L310.70 133.80L311.20 133.88L311.70 133.95L312.20 134.02L312.70 134.09L313.20 134.16L313.70 134.22L314.20 134.29L314.70 134.35L315.20 134.41L315.70 134.47L316.20 134.53L316.70 134.59L317.20 134.66L317.70 134.72L318.20 134.78L318.70 134.85L319.20 134.92L319.70 134.99L320.20 135.06L320.70 135.13L321.20 135.21L321.70 135.28L322.20 135.36L322.70 135.44L323.20 135.51L323.70 135.59L324.20 135.67L324.70 135.75L325.20 135.83L325.70 135.91L326.20 136.00L326.70 136.08L327.20 136.16L327.70 136.25L328.20 136.33L328.70 136.41L329.20 136.50L329.70 136.59L330.20 136.67L330.70 136.76L331.20 136.85L331.70 136.93L332.20 137.02L332.70 137.11L333.20 137.20L333.70 137.29L334.20 137.38L334.70 137.47L335.20 137.56L335.70 137.65L336.20 137.74L336.70 137.83L337.20 137.92L337.70 138.01L338.20 138.10L338.70 138.19L339.20 138.28L339.70 138.37L340.20 138.47L340.70 138.56L341.20 138.66L341.70 138.75L342.20 138.85L342.70 138.95L343.20 139.05L343.70 139.16L344.20 139.26L344.70 139.37L345.20 139.48L345.70 139.60L346.20 139.71L346.70 139.84L347.20 139.96L347.70 140.09L348.20 140.21L348.70 140.34L349.20 140.46L349.70 140.58L350.20 140.69L350.70 140.79L351.20 140.88L351.70 140.94L352.20 140.98L352.70 140.97L353.20 140.91L353.70 140.79L354.20 140.60L354.70 140.33L355.20 139.98L355.70 139.56L356.20 139.08L356.70 138.58L357.20 138.11L357.70 137.74L358.20 137.56L358.70 137.64L359.20 137.99L359.70 138.59L360.20 139.33L360.70 140.17L361.20 141.01L361.70 141.83L362.20 142.59L362.70 143.29L363.20 143.90L363.70 144.44L364.20 144.91L364.70 145.33L365.20 145.70L365.70 146.02L366.20 146.32L366.70 146.59L367.20 146.83L367.70 147.06L368.20 147.28L368.70 147.48L369.20 147.69L369.70 147.88L370.20 148.07L370.70 148.26L371.20 148.45L371.70 148.63L372.20 148.82L372.70 149.00L373.20 149.17L373.70 149.35L374.20 149.52L374.70 149.69L375.20 149.86L375.70 150.03L376.20 150.20L376.70 150.37L377.20 150.54L377.70 150.71L378.20 150.88L378.70 151.06L379.20 151.24L379.70 151.42L380.20 151.60L380.70 151.80L381.20 152.00L381.70 152.22L382.20 152.43L382.70 152.65L383.20 152.86L383.70 153.08L384.20 153.28L384.70 153.48L385.20 153.67L385.70 153.85L386.20 154.01L386.70 154.17L387.20 154.31L387.70 154.44L388.20 154.57L388.70 154.70L389.20 154.82L389.70 154.95L390.20 155.07L390.70 155.20L391.20 155.33L391.70 155.47L392.20 155.62L392.70 155.78L393.20 155.93L393.70 156.09L394.20 156.25L394.70 156.42L395.20 156.59L395.70 156.77L396.20 156.96L396.70 157.15L397.20 157.35L397.70 157.57L398.20 157.80L398.70 158.04L399.20 158.29L399.70 158.55L400.20 158.81L400.70 159.08L401.20 159.34L401.70 159.61L402.20 159.87L402.70 160.13L403.20 160.37L403.70 160.63L404.20 160.89L404.70 161.16L405.20 161.42L405.70 161.69L406.20 161.96L406.70 162.22L407.20 162.47L407.70 162.72L408.20 162.96L408.70 163.18L409.20 163.38L409.70 163.57L410.20 163.75L410.70 163.91L411.20 164.06L411.70 164.20L412.20 164.34L412.70 164.47L413.20 164.60L413.70 164.72L414.20 164.83L414.70 164.95L415.20 165.06L415.70 165.17L416.20 165.28L416.70 165.39L417.20 165.50L417.70 165.62L418.20 165.73L418.70 165.85L419.20 165.98L419.70 166.10L420.20 166.24L420.70 166.37L421.20 166.51L421.70 166.64L422.20 166.78L422.70 166.92L423.20 167.05L423.70 167.19L424.20 167.33L424.70 167.47L425.20 167.62L425.70 167.76L426.20 167.91L426.70 168.06L427.20 168.21L427.70 168.36L428.20 168.51L428.70 168.67L429.20 168.83L429.70 168.99L430.20 169.15L430.70 169.32L431.20 169.50L431.70 169.68L432.20 169.87L432.70 170.06L433.20 170.26L433.70 170.45L434.20 170.65L434.70 170.86L435.20 171.06L435.70 171.26L436.20 171.46L436.70 171.66L437.20 171.86L437.70 172.05L438.20 172.24L438.70 172.43L439.20 172.61L439.70 172.79L440.20 172.96L440.70 173.12L441.20 173.29L441.70 173.45L442.20 173.61L442.70 173.77L443.20 173.92L443.70 174.08L444.20 174.23L444.70 174.38L445.20 174.53L445.70 174.68L446.20 174.83L446.70 174.98L447.20 175.12L447.70 175.27L448.20 175.41L448.70 175.56L449.20 175.70L449.70 175.85L450.20 175.99L450.70 176.13L451.20 176.28L451.70 176.42L452.20 176.57L452.70 176.71L453.20 176.86L453.70 177.00L454.20 177.15L454.70 177.30L455.20 177.45L455.70 177.60L456.20 177.76L456.70 177.91L457.20 178.06L457.70 178.22L458.20 178.38L458.70 178.54L459.20 178.69L459.70 178.85L460.20 179.01L460.70 179.17L461.20 179.33L461.70 179.49L462.20 179.64L462.70 179.80L463.20 179.95L463.70 180.11L464.20 180.26L464.70 180.41L465.20 180.56L465.70 180.71L466.20 180.86L466.70 181.00L467.20 181.15L467.70 181.29L468.20 181.42L468.70 181.56L469.20 181.69L469.70 181.82L470.20 181.94L470.70 182.06L471.20 182.18L471.70 182.30L472.20 182.42L472.70 182.53L473.20 182.65L473.70 182.76L474.20 182.87L474.70 182.97L475.20 183.08L475.70 183.19L476.20 183.29L476.70 183.40L477.20 183.50L477.70 183.60L478.20 183.70L478.70 183.80L479.20 183.90L479.70 184.01L480.20 184.11L480.70 184.21L481.20 184.31L481.70 184.41L482.20 184.51L482.70 184.61L483.20 184.72L483.70 184.82L484.20 184.92L484.70 185.03L485.20 185.14L485.70 185.24L486.20 185.35L486.70 185.46L487.20 185.56L487.70 185.67L488.20 185.78L488.70 185.89L489.20 185.99L489.70 186.10L490.20 186.21L490.70 186.31L491.20 186.42L491.70 186.53L492.20 186.64L492.70 186.74L493.20 186.85L493.70 186.96L494.20 187.06L494.70 187.17L495.20 187.28L495.70 187.38L496.20 187.49L496.70 187.60L497.20 187.70L497.70 187.81L498.20 187.92L498.70 188.02L499.20 188.13L499.70 188.23L500.20 188.34L500.70 188.44L501.20 188.55L501.70 188.66L502.20 188.76L502.70 188.87L503.20 188.98L503.70 189.09L504.20 189.20L504.70 189.31L505.20 189.42L505.70 189.53L506.20 189.64L506.70 189.75L507.20 189.86L507.70 189.97L508.20 190.08L508.70 190.18L509.20 190.29L509.70 190.40L510.20 190.50L510.70 190.61L511.20 190.71L511.70 190.81L512.20 190.91L512.70 191.01L513.20 191.11L513.70 191.21L514.20 191.30L514.70 191.39L515.20 191.49L515.70 191.57L516.20 191.66L516.70 191.75L517.20 191.83L517.70 191.91L518.20 191.99L518.70 192.07L519.20 192.15L519.70 192.23L520.20 192.30L520.70 192.38L521.20 192.45L521.70 192.53L522.20 192.60L522.70 192.67L523.20 192.74L523.70 192.82L524.20 192.88L524.70 192.95L525.20 193.02L525.70 193.09L526.20 193.15L526.70 193.22L527.20 193.28L527.70 193.34L528.20 193.40L528.70 193.46L529.20 193.52L529.70 193.57L530.20 193.63L530.70 193.68" stroke="#ff0000" stroke-width="1.9"/>
<path d="M39.50 258.00L40.00 258.00L40.50 258.00L41.00 258.00L41.50 258.00L42.00 258.00L42.50 258.00L43.00 258.00L43.50 258.00L44.00 258.00L44.50 258.00L45.00 258.00L45.50 258.00L46.00 258.00L46.50 258.00L47.00 258.00L47.50 258.00L48.00 258.00L48.50 258.00L49.00 258.00L49.50 258.00L50.00 258.00L50.50 258.00L51.00 258.00L51.50 258.00L52.00 258.00L52.50 258.00L53.00 258.00L53.50 258.00L54.00 258.00L54.50 258.00L55.00 258.00L55.50 258.00L56.00 258.00L56.50 258.00L57.00 258.00L57.50 258.00L58.00 258.00L58.50 258.00L59.00 258.00L59.50 258.00L60.00 258.00L60.50 258.00L61.00 258.00L61.50 258.00L62.00 258.00L62.50 258.00L63.00 258.00L63.50 258.00L64.00 258.00L64.50 258.00L65.00 258.00L65.50 258.00L66.00 258.00L66.50 258.00L67.00 258.00L67.50 258.00L68.00 258.00L68.50 258.00L69.00 258.00L69.50 258.00L70.00 258.00L70.50 258.00L71.00 258.00L71.50 258.00L72.00 258.00L72.50 258.00L73.00 258.00L73.50 258.00L74.00 258.00L74.50 258.00L75.00 258.00L75.50 258.00L76.00 258.00L76.50 258.00L77.00 258.00L77.50 258.00L78.00 258.00L78.50 258.00L79.00 258.00L79.50 258.00L80.00 258.00L80.50 258.00L81.00 258.00L81.50 258.00L82.00 258.00L82.50 258.00L83.00 258.00L83.50 258.00L84.00 258.00L84.50 258.00L85.00 258.00L85.50 258.00L86.00 258.00L86.50 258.00L87.00 258.00L87.50 258.00L88.00 258.00L88.50 258.00L89.00 258.00L89.50 258.00L90.00 258.00L90.50 258.00L91.00 258.00L91.50 258.00L92.00 258.00L92.50 258.00L93.00 258.00L93.50 258.00L94.00 258.00L94.50 258.00L95.00 258.00L95.50 258.00L96.00 258.00L96.50 258.00L97.00 258.09L97.50 258.14L98.00 258.19L98.50 258.23L99.00 258.27L99.50 258.30L100.00 258.33L100.50 258.34L101.00 258.36L101.50 258.38L102.00 258.43L102.50 258.50L103.00 258.57L103.50 258.63L104.00 258.66L104.50 258.66L105.00 258.64L105.50 258.62L106.00 258.61L106.50 258.60L107.00 258.61L107.50 258.63L108.00 258.66L108.50 258.70L109.00 258.75L109.50 258.79L110.00 258.81L110.50 258.82L111.00 258.80L111.50 258.77L112.00 258.74L112.50 258.72L113.00 258.69L113.50 258.67L114.00 258.64L114.50 258.59L115.00 258.52L115.50 258.44L116.00 258.36L116.50 258.30L117.00 258.27L117.50 258.28L118.00 258.37L118.50 258.52L119.00 258.68L119.50 258.81L120.00 258.87L120.50 258.87L121.00 258.88L121.50 258.89L122.00 258.90L122.50 258.90L123.00 258.89L123.50 258.85L124.00 258.81L124.50 258.77L125.00 258.76L125.50 258.78L126.00 258.81L126.50 258.85L127.00 258.88L127.50 258.89L128.00 258.88L128.50 258.87L129.00 258.84L129.50 258.83L130.00 258.83L130.50 258.85L131.00 258.87L131.50 258.87L132.00 258.83L132.50 258.75L133.00 258.66L133.50 258.57L134.00 258.50L134.50 258.45L135.00 258.42L135.50 258.39L136.00 258.37L136.50 258.36L137.00 258.37L137.50 258.39L138.00 258.39L138.50 258.37L139.00 258.34L139.50 258.32L140.00 258.31L140.50 258.32L141.00 258.34L141.50 258.35L142.00 258.34L142.50 258.31L143.00 258.25L143.50 258.19L144.00 258.14L144.50 258.11L145.00 258.11L145.50 258.13L146.00 258.14L146.50 258.13L147.00 258.09L147.50 258.02L148.00 257.93L148.50 257.83L149.00 257.73L149.50 257.64L150.00 257.58L150.50 257.53L151.00 257.47L151.50 257.40L152.00 257.29L152.50 257.14L153.00 256.97L153.50 256.79L154.00 256.65L154.50 256.58L155.00 256.58L155.50 256.64L156.00 256.73L156.50 256.87L157.00 257.07L157.50 257.32L158.00 257.59L158.50 257.85L159.00 258.07L159.50 258.23L160.00 258.29L160.50 258.22L161.00 258.05L161.50 257.80L162.00 257.54L162.50 257.30L163.00 257.12L163.50 257.04L164.00 257.06L164.50 257.12L165.00 257.23L165.50 257.37L166.00 257.51L166.50 257.64L167.00 257.73L167.50 257.79L168.00 257.84L168.50 257.88L169.00 257.94L169.50 258.01L170.00 258.08L170.50 258.15L171.00 258.23L171.50 258.31L172.00 258.39L172.50 258.44L173.00 258.46L173.50 258.45L174.00 258.45L174.50 258.46L175.00 258.50L175.50 258.57L176.00 258.64L176.50 258.70L177.00 258.72L177.50 258.72L178.00 258.72L178.50 258.74L179.00 258.78L179.50 258.85L180.00 258.92L180.50 259.09L181.00 259.38L181.50 259.72L182.00 260.02L182.50 260.16L183.00 259.96L183.50 259.25L184.00 258.23L184.50 257.12L185.00 256.13L185.50 255.43L186.00 254.81L186.50 254.26L187.00 253.91L187.50 253.90L188.00 254.18L188.50 254.67L189.00 255.27L189.50 256.08L190.00 257.43L190.50 258.60L191.00 258.87L191.50 258.88L192.00 258.88L192.50 258.89L193.00 258.90L193.50 258.93L194.00 258.95L194.50 258.95L195.00 258.92L195.50 258.86L196.00 258.81L196.50 258.77L197.00 258.77L197.50 258.81L198.00 258.87L198.50 258.95L199.00 259.02L199.50 259.06L200.00 259.06L200.50 258.98L201.00 258.80L201.50 258.58L202.00 258.37L202.50 258.21L203.00 258.12L203.50 258.16L204.00 258.39L204.50 258.64L205.00 258.75L205.50 258.62L206.00 258.33L206.50 257.93L207.00 257.47L207.50 257.02L208.00 256.63L208.50 256.27L209.00 255.88L209.50 255.47L210.00 255.09L210.50 254.76L211.00 254.51L211.50 254.40L212.00 254.48L212.50 254.73L213.00 255.13L213.50 255.62L214.00 256.13L214.50 256.80L215.00 257.71L215.50 258.72L216.00 259.71L216.50 260.52L217.00 260.99L217.50 260.87L218.00 259.96L218.50 258.61L219.00 257.26L219.50 256.33L220.00 256.19L220.50 256.61L221.00 257.32L221.50 258.10L222.00 258.74L222.50 259.02L223.00 259.01L223.50 258.92L224.00 258.77L224.50 258.61L225.00 258.44L225.50 258.29L226.00 258.20L226.50 258.16L227.00 258.17L227.50 258.25L228.00 258.38L228.50 258.52L229.00 258.66L229.50 258.78L230.00 258.84L230.50 258.86L231.00 258.87L231.50 258.85L232.00 258.82L232.50 258.77L233.00 258.74L233.50 258.72L234.00 258.72L234.50 258.72L235.00 258.71L235.50 258.69L236.00 258.64L236.50 258.59L237.00 258.53L237.50 258.43L238.00 258.26L238.50 258.04L239.00 257.80L239.50 257.59L240.00 257.47L240.50 257.44L241.00 257.45L241.50 257.50L242.00 257.56L242.50 257.61L243.00 257.66L243.50 257.69L244.00 257.73L244.50 257.76L245.00 257.80L245.50 257.85L246.00 257.92L246.50 258.01L247.00 258.11L247.50 258.22L248.00 258.32L248.50 258.39L249.00 258.43L249.50 258.32L250.00 258.08L250.50 257.85L251.00 257.76L251.50 257.78L252.00 257.78L252.50 257.76L253.00 257.73L253.50 257.70L254.00 257.68L254.50 257.67L255.00 257.66L255.50 257.64L256.00 257.61L256.50 257.59L257.00 257.58L257.50 257.56L258.00 257.53L258.50 257.49L259.00 257.44L259.50 257.39L260.00 257.36L260.50 257.34L261.00 257.34L261.50 257.34L262.00 257.34L262.50 257.33L263.00 257.32L263.50 257.33L264.00 257.36L264.50 257.39L265.00 257.44L265.50 257.47L266.00 257.49L266.50 257.50L267.00 257.50L267.50 257.51L268.00 257.54L268.50 257.60L269.00 257.68L269.50 257.76L270.00 257.82L270.50 257.88L271.00 257.92L271.50 257.94L272.00 257.95L272.50 257.96L273.00 257.97L273.50 258.03L274.00 258.11L274.50 258.20L275.00 258.28L275.50 258.34L276.00 258.38L276.50 258.40L277.00 258.40L277.50 258.39L278.00 258.39L278.50 258.37L279.00 258.34L279.50 258.30L280.00 258.27L280.50 258.24L281.00 258.23L281.50 258.20L282.00 258.14L282.50 258.05L283.00 257.96L283.50 257.88L284.00 257.84L284.50 257.82L285.00 257.82L285.50 257.83L286.00 257.87L286.50 257.92L287.00 257.98L287.50 258.04L288.00 258.10L288.50 258.14L289.00 258.18L289.50 258.23L290.00 258.30L290.50 258.39L291.00 258.48L291.50 258.56L292.00 258.61L292.50 258.58L293.00 258.49L293.50 258.34L294.00 258.15L294.50 257.94L295.00 257.73L295.50 257.52L296.00 257.31L296.50 257.11L297.00 256.91L297.50 256.75L298.00 256.64L298.50 256.60L299.00 256.68L299.50 256.89L300.00 257.19L300.50 257.54L301.00 257.89L301.50 258.21L302.00 258.47L302.50 258.64L303.00 258.71L303.50 258.71L304.00 258.69L304.50 258.65L305.00 258.59L305.50 258.51L306.00 258.41L306.50 258.31L307.00 258.20L307.50 258.10L308.00 258.02L308.50 257.95L309.00 257.90L309.50 257.85L310.00 257.82L310.50 257.81L311.00 257.79L311.50 257.78L312.00 257.77L312.50 257.78L313.00 257.78L313.50 257.77L314.00 257.74L314.50 257.68L315.00 257.59L315.50 257.50L316.00 257.40L316.50 257.34L317.00 257.30L317.50 257.31L318.00 257.36L318.50 257.45L319.00 257.55L319.50 257.65L320.00 257.71L320.50 257.73L321.00 257.70L321.50 257.63L322.00 257.55L322.50 257.50L323.00 257.48L323.50 257.49L324.00 257.53L324.50 257.56L325.00 257.58L325.50 257.60L326.00 257.63L326.50 257.66L327.00 257.69L327.50 257.72L328.00 257.73L328.50 257.73L329.00 257.74L329.50 257.78L330.00 257.83L330.50 257.91L331.00 257.98L331.50 258.05L332.00 258.10L332.50 258.14L333.00 258.19L333.50 258.25L334.00 258.34L334.50 258.43L335.00 258.53L335.50 258.60L336.00 258.65L336.50 258.68L337.00 258.71L337.50 258.77L338.00 258.86L338.50 258.99L339.00 259.11L339.50 259.20L340.00 259.25L340.50 259.26L341.00 259.25L341.50 259.24L342.00 259.24L342.50 259.26L343.00 259.29L343.50 259.31L344.00 259.32L344.50 259.31L345.00 259.30L345.50 259.28L346.00 259.23L346.50 259.16L347.00 259.08L347.50 259.00L348.00 258.91L348.50 258.81L349.00 258.70L349.50 258.58L350.00 258.47L350.50 258.36L351.00 258.23L351.50 258.08L352.00 257.92L352.50 257.72L353.00 257.50L353.50 257.26L354.00 256.99L354.50 256.72L355.00 256.46L355.50 256.24L356.00 256.07L356.50 255.97L357.00 255.94L357.50 256.03L358.00 256.26L358.50 256.58L359.00 256.97L359.50 257.37L360.00 257.76L360.50 258.10L361.00 258.33L361.50 258.48L362.00 258.59L362.50 258.66L363.00 258.66L363.50 258.63L364.00 258.56L364.50 258.48L365.00 258.40L365.50 258.31L366.00 258.22L366.50 258.14L367.00 258.08L367.50 258.04L368.00 258.03L368.50 258.04L369.00 258.04L369.50 258.02L370.00 257.98L370.50 257.91L371.00 257.83L371.50 257.75L372.00 257.69L372.50 257.64L373.00 257.60L373.50 257.56L374.00 257.53L374.50 257.50L375.00 257.48L375.50 257.49L376.00 257.52L376.50 257.59L377.00 257.68L377.50 257.78L378.00 257.86L378.50 257.90L379.00 257.91L379.50 257.91L380.00 257.89L380.50 257.88L381.00 257.89L381.50 257.91L382.00 257.94L382.50 257.97L383.00 257.98L383.50 257.96L384.00 257.92L384.50 257.85L385.00 257.80L385.50 257.76L386.00 257.75L386.50 257.74L387.00 257.72L387.50 257.70L388.00 257.67L388.50 257.66L389.00 257.65L389.50 257.67L390.00 257.70L390.50 257.81L391.00 258.02L391.50 258.27L392.00 258.50L392.50 258.65L393.00 258.66L393.50 258.53L394.00 258.29L394.50 258.02L395.00 257.76L395.50 257.54L396.00 257.37L396.50 257.26L397.00 257.25L397.50 257.28L398.00 257.32L398.50 257.36L399.00 257.38L399.50 257.41L400.00 257.44L400.50 257.51L401.00 257.63L401.50 257.78L402.00 257.93L402.50 258.04L403.00 258.10L403.50 258.10L404.00 258.08L404.50 258.04L405.00 258.00L405.50 257.97L406.00 257.95L406.50 257.95L407.00 257.96L407.50 257.99L408.00 258.05L408.50 258.11L409.00 258.16L409.50 258.19L410.00 258.20L410.50 258.18L411.00 258.16L411.50 258.14L412.00 258.13L412.50 258.13L413.00 258.13L413.50 258.10L414.00 258.06L414.50 258.00L415.00 257.92L415.50 257.84L416.00 257.77L416.50 257.72L417.00 257.71L417.50 257.72L418.00 257.74L418.50 257.76L419.00 257.75L419.50 257.72L420.00 257.67L420.50 257.64L421.00 257.64L421.50 257.67L422.00 257.72L422.50 257.80L423.00 257.90L423.50 258.02L424.00 258.12L424.50 258.15L425.00 258.07L425.50 257.86L426.00 257.57L426.50 257.22L427.00 256.86L427.50 256.53L428.00 256.24L428.50 256.01L429.00 255.85L429.50 255.78L430.00 255.80L430.50 255.91L431.00 256.10L431.50 256.32L432.00 256.54L432.50 256.75L433.00 256.91L433.50 256.99L434.00 256.98L434.50 256.88L435.00 256.73L435.50 256.56L436.00 256.39L436.50 256.21L437.00 256.03L437.50 255.85L438.00 255.68L438.50 255.55L439.00 255.49L439.50 255.51L440.00 255.62L440.50 255.79L441.00 255.99L441.50 256.23L442.00 256.47L442.50 256.72L443.00 256.94L443.50 257.11L444.00 257.21L444.50 257.24L445.00 257.25L445.50 257.25L446.00 257.26L446.50 257.27L447.00 257.28L447.50 257.29L448.00 257.29L448.50 257.30L449.00 257.31L449.50 257.35L450.00 257.42L450.50 257.50L451.00 257.59L451.50 257.68L452.00 257.76L452.50 257.83L453.00 257.90L453.50 257.95L454.00 257.97L454.50 257.99L455.00 258.00L455.50 258.04L456.00 258.11L456.50 258.22L457.00 258.35L457.50 258.62L458.00 258.83L458.50 258.85L459.00 258.84L459.50 258.84L460.00 258.82L460.50 258.79L461.00 258.73L461.50 258.66L462.00 258.57L462.50 258.47L463.00 258.38L463.50 258.30L464.00 258.26L464.50 258.26L465.00 258.30L465.50 258.37L466.00 258.43L466.50 258.49L467.00 258.54L467.50 258.60L468.00 258.65L468.50 258.70L469.00 258.73L469.50 258.74L470.00 258.74L470.50 258.73L471.00 258.72L471.50 258.73L472.00 258.74L472.50 258.76L473.00 258.77L473.50 258.79L474.00 258.79L474.50 258.81L475.00 258.82L475.50 258.85L476.00 258.88L476.50 258.91L477.00 258.95L477.50 258.98L478.00 259.02L478.50 259.07L479.00 259.16L479.50 259.26L480.00 259.36L480.50 259.42L481.00 259.44L481.50 259.42L482.00 259.36L482.50 259.30L483.00 259.25L483.50 259.21L484.00 259.18L484.50 259.17L485.00 259.15L485.50 259.12L486.00 259.09L486.50 259.06L487.00 259.02L487.50 258.98L488.00 258.94L488.50 258.89L489.00 258.87L489.50 258.87L490.00 258.89L490.50 258.93L491.00 258.96L491.50 258.98L492.00 258.98L492.50 258.97L493.00 258.97L493.50 258.97L494.00 258.97L494.50 258.97L495.00 258.97L495.50 258.95L496.00 258.93L496.50 258.91L497.00 258.89L497.50 258.88L498.00 258.87L498.50 258.86L499.00 258.84L499.50 258.80L500.00 258.73L500.50 258.65L501.00 258.55L501.50 258.46L502.00 258.38L502.50 258.30L503.00 258.25L503.50 258.22L504.00 258.21L504.50 258.23L505.00 258.27L505.50 258.33L506.00 258.40L506.50 258.45L507.00 258.48L507.50 258.48L508.00 258.45L508.50 258.42L509.00 258.38L509.50 258.33L510.00 258.28L510.50 258.22L511.00 258.18L511.50 258.15L512.00 258.15L512.50 258.17L513.00 258.19L513.50 258.19L514.00 258.17L514.50 258.13L515.00 258.07L515.50 258.02L516.00 257.97L516.50 257.94L517.00 257.92L517.50 257.91L518.00 257.89L518.50 257.85L519.00 257.82L519.50 257.80L520.00 257.80L520.50 257.85L521.00 257.93L521.50 258.02L522.00 258.10L522.50 258.17L523.00 258.21L523.50 258.23L524.00 258.24L524.50 258.25L525.00 258.24L525.50 258.24L526.00 258.23L526.50 258.24L527.00 258.27L527.50 258.31L528.00 258.35L528.50 258.41L529.00 258.46L529.50 258.53L530.00 258.62L530.50 258.73" stroke="#0000ff" stroke-width="1.7"/>
</g>
<path d="M121.10 218.7V231M136.90 218.7V231M141.50 218.7V231M155.90 218.7V231M176.40 218.7V231M187.20 218.7V231M192.60 218.7V231M202.80 218.7V231M204.20 218.7V231M218.20 218.7V231M221.80 218.7V231M230.30 218.7V231M231.80 218.7V231M234.40 218.7V231M243.20 218.7V231M245.10 218.7V231M247.20 218.7V231M257.50 218.7V231M259.50 218.7V231M268.90 218.7V231M278.90 218.7V231M289.60 218.7V231M291.10 218.7V231M293.60 218.7V231M301.20 218.7V231M302.00 218.7V231M304.80 218.7V231M312.30 218.7V231M314.80 218.7V231M322.30 218.7V231M324.60 218.7V231M329.10 218.7V231M332.00 218.7V231M334.10 218.7V231M338.60 218.7V231M342.30 218.7V231M344.10 218.7V231M351.50 218.7V231M357.30 218.7V231M359.50 218.7V231M362.30 218.7V231M366.40 218.7V231M368.50 218.7V231M377.70 218.7V231M380.30 218.7V231M386.80 218.7V231M389.10 218.7V231M392.70 218.7V231M395.00 218.7V231M401.20 218.7V231M403.20 218.7V231M405.00 218.7V231M409.20 218.7V231M411.60 218.7V231M413.30 218.7V231M419.80 218.7V231M425.90 218.7V231M433.00 218.7V231M434.70 218.7V231M436.40 218.7V231M442.30 218.7V231M452.50 218.7V231M455.50 218.7V231M457.30 218.7V231M459.10 218.7V231M463.40 218.7V231M464.00 218.7V231M467.30 218.7V231M470.60 218.7V231M472.30 218.7V231M474.50 218.7V231M479.50 218.7V231M481.40 218.7V231M483.20 218.7V231M485.00 218.7V231M486.80 218.7V231M491.80 218.7V231M495.50 218.7V231M500.00 218.7V231M502.30 218.7V231M507.10 218.7V231M512.70 218.7V231M515.00 218.7V231M519.10 218.7V231M520.90 218.7V231M522.70 218.7V231M525.00 218.7V231M529.50 218.7V231" stroke="#000" stroke-width="1.25" fill="none"/>
<rect x="39.5" y="11.2" width="491.30" height="267" fill="none" stroke="#000" stroke-width="1.4"/>
<path d="M68.40 278.2V285.7M184.00 278.2V285.7M299.60 278.2V285.7M415.20 278.2V285.7M530.80 278.2V285.7M126.20 278.2V282.0M241.80 278.2V282.0M357.40 278.2V282.0M473.00 278.2V282.0" stroke="#000" stroke-width="1.4" fill="none"/>
<text x="45.2" y="34.1" font-size="17.5">2.3 GPa decompression</text>
<circle cx="365.5" cy="36.8" r="2.8" fill="#000"/>
<path d="M342.3 62.1H389.2" stroke="#ff0000" stroke-width="1.7"/>
<path d="M342.3 87.5H389.2" stroke="#0000ff" stroke-width="1.5"/>
<path d="M365.6 106.9V118.9" stroke="#333" stroke-width="1.4"/>
<text x="394.4" y="43.7" font-size="20.7">Experiment</text>
<text x="394.4" y="68.9" font-size="20.7">Calculation</text>
<text x="394.4" y="94.3" font-size="20.7">Difference</text>
<text x="394.4" y="119.6" font-size="20.7">Bragg position</text>
<text x="41.7" y="227.2" font-size="13.05">ST12 phase</text>
<text x="68.40" y="304.8" text-anchor="middle" font-size="17.2">4</text><text x="184.00" y="304.8" text-anchor="middle" font-size="17.2">8</text><text x="299.60" y="304.8" text-anchor="middle" font-size="17.2">12</text><text x="415.20" y="304.8" text-anchor="middle" font-size="17.2">16</text><text x="530.80" y="304.8" text-anchor="middle" font-size="17.2">20</text>
<text x="296.9" y="338.4" text-anchor="middle" font-size="19">Two theta (degree)</text>
<text transform="translate(22.1 144.8) rotate(-90)" text-anchor="middle" font-size="20.7">Intensity (a.u.)</text>
</svg>
</body></html>
